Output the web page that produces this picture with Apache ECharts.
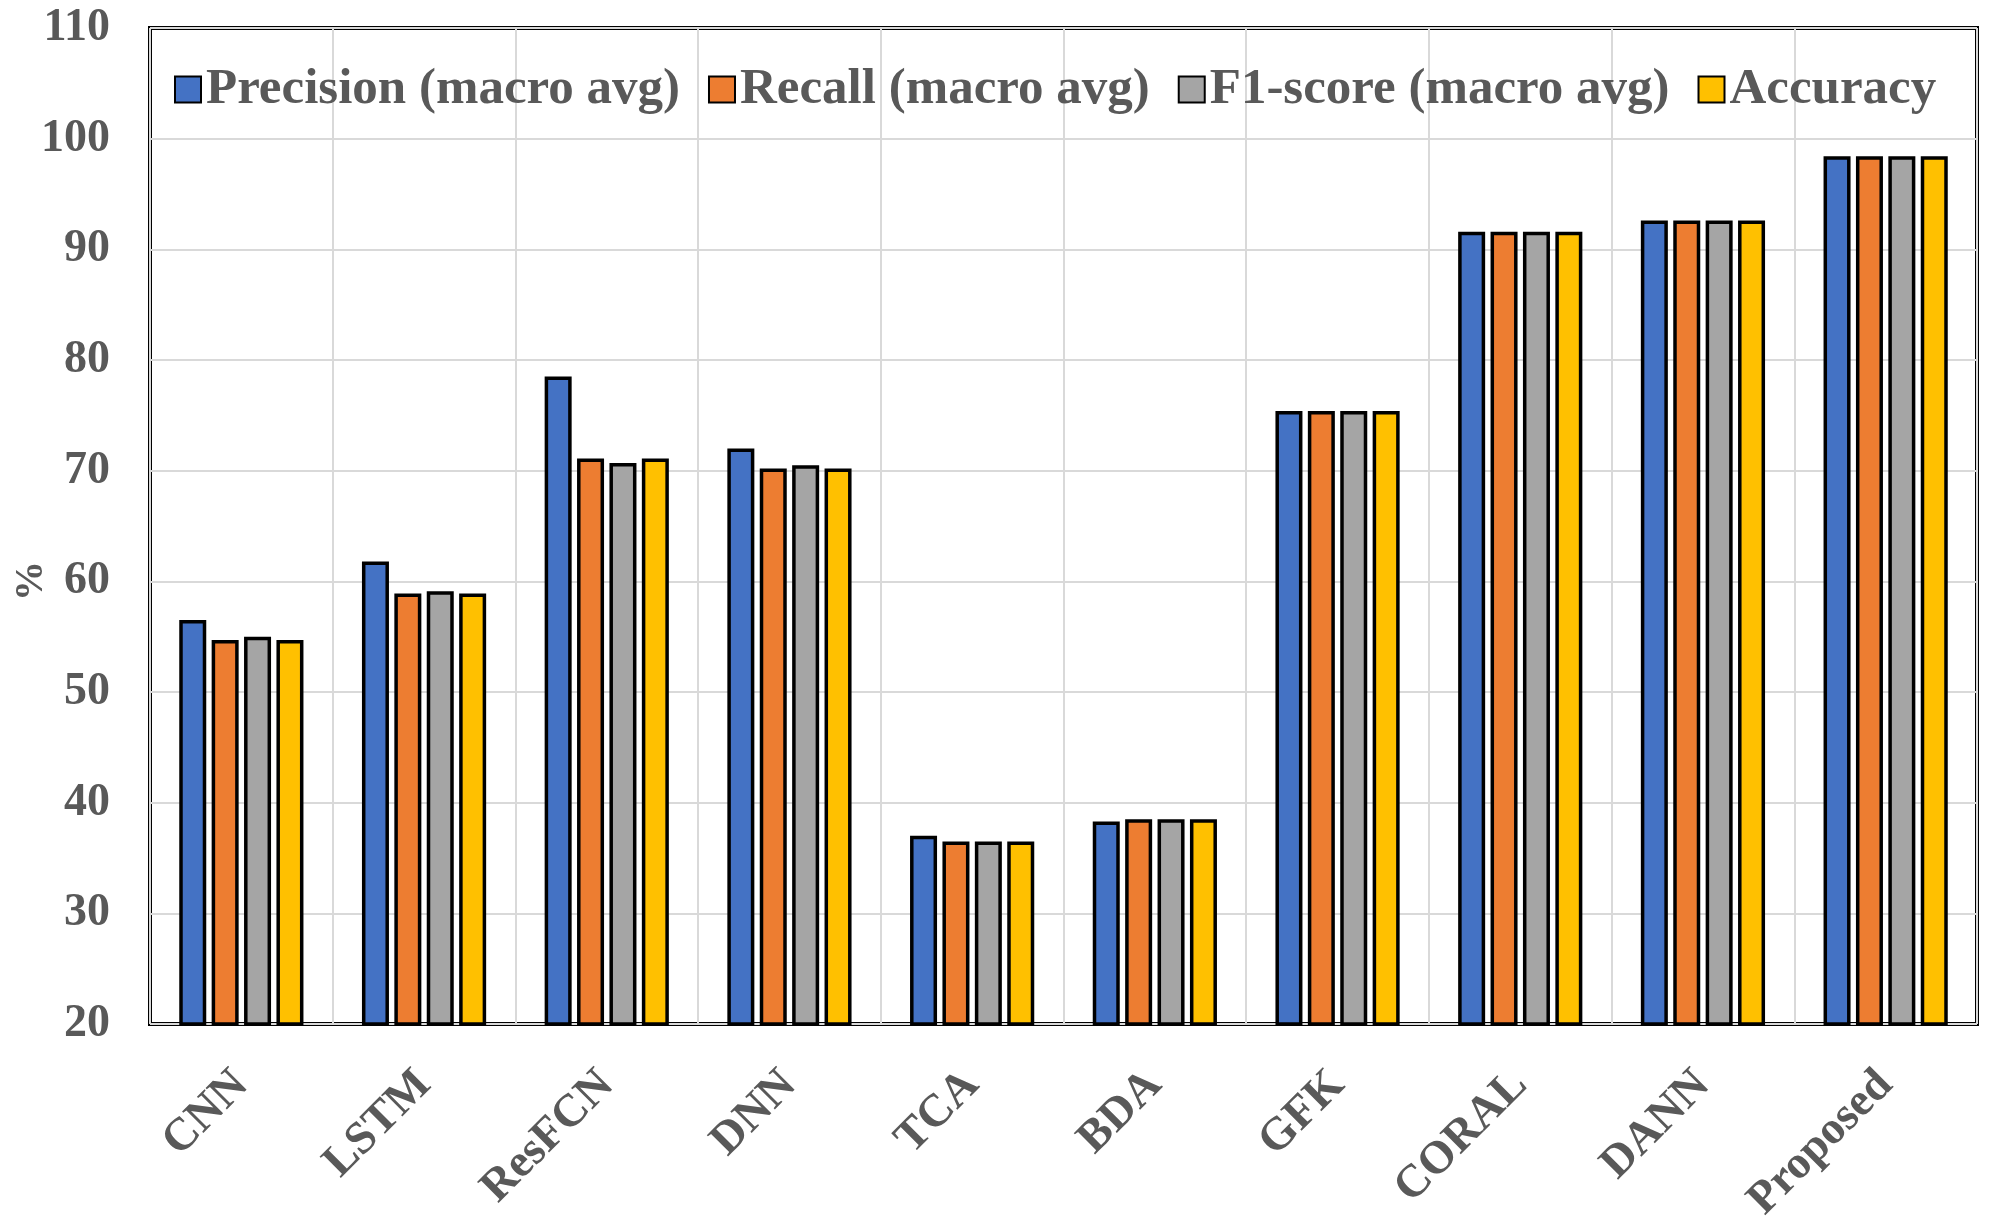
<!DOCTYPE html>
<html>
<head>
<meta charset="UTF-8">
<title>Metrics</title>
<script src="https://cdn.jsdelivr.net/npm/echarts@6/dist/echarts.min.js"></script>
<style>
  html, body { margin: 0; padding: 0; background: #fff; }
  #main { width: 1990px; height: 1224px; }
</style>
</head>
<body>
<div id="main"></div>
<script type="text/javascript">
var categories = ['CNN', 'LSTM', 'ResFCN', 'DNN', 'TCA', 'BDA', 'GFK', 'CORAL', 'DANN', 'Proposed'];
var precision = [56.5, 61.8, 78.5, 72.0, 37.0, 38.3, 75.4, 91.6, 92.6, 98.4];
var recall    = [54.7, 58.9, 71.1, 70.2, 36.5, 38.5, 75.4, 91.6, 92.6, 98.4];
var f1score   = [55.0, 59.1, 70.7, 70.5, 36.5, 38.5, 75.4, 91.6, 92.6, 98.4];
var accuracy  = [54.7, 58.9, 71.1, 70.2, 36.5, 38.5, 75.4, 91.6, 92.6, 98.4];
var seriesNames = ['Precision (macro avg)', 'Recall (macro avg)', 'F1-score (macro avg)', 'Accuracy'];
var colors = ['#4472c4', '#ed7d31', '#a5a5a5', '#ffc000'];

var fontFam = "'Liberation Serif', 'Times New Roman', serif";
var textCol = '#595959';

var myChart = echarts.init(document.getElementById('main'));

function makeBar(name, data, i) {
  return {
    name: name,
    type: 'bar',
    data: data,
    barWidth: 27,
    barGap: '20%',
    itemStyle: {
      color: colors[i],
      borderColor: '#000',
      borderWidth: 3.5
    }
  };
}

var option = {
  animation: false,
  backgroundColor: '#fff',
  grid: {
    left: 150,
    right: 13,
    top: 28,
    bottom: 200,
    show: true,
    borderColor: '#000',
    borderWidth: 4,
    containLabel: false,
    outerBoundsMode: 'none'
  },
  legend: {
    data: seriesNames,
    left: 169,
    top: 59,
    itemWidth: 26,
    itemHeight: 26,
    itemGap: 28,
    icon: 'rect',
    textStyle: {
      fontFamily: fontFam,
      fontWeight: 'bold',
      fontSize: 51,
      color: textCol
    }
  },
  graphic: [{
    type: 'text',
    x: 32,
    y: 581,
    rotation: Math.PI / 2,
    style: {
      text: '%',
      fontFamily: fontFam,
      fontWeight: 'bold',
      fontSize: 40,
      fill: textCol,
      align: 'center',
      verticalAlign: 'middle'
    }
  }],
  xAxis: {
    type: 'category',
    data: categories,
    axisLine: { show: false },
    axisTick: { show: false },
    splitLine: { show: true, lineStyle: { color: '#d9d9d9', width: 2 } },
    axisLabel: {
      interval: 0,
      rotate: 45,
      margin: 54,
      fontFamily: fontFam,
      fontWeight: 'bold',
      fontSize: 46,
      color: textCol
    }
  },
  yAxis: {
    type: 'value',
    min: 20,
    max: 110,
    interval: 10,
    axisLine: { show: false },
    axisTick: { show: false },
    splitLine: { show: true, lineStyle: { color: '#d9d9d9', width: 2 } },
    axisLabel: {
      margin: 40,
      fontFamily: fontFam,
      fontWeight: 'bold',
      fontSize: 46,
      color: textCol
    }
  },
  series: [
    makeBar(seriesNames[0], precision, 0),
    makeBar(seriesNames[1], recall, 1),
    makeBar(seriesNames[2], f1score, 2),
    makeBar(seriesNames[3], accuracy, 3)
  ]
};
myChart.setOption(option);
</script>
</body>
</html>
